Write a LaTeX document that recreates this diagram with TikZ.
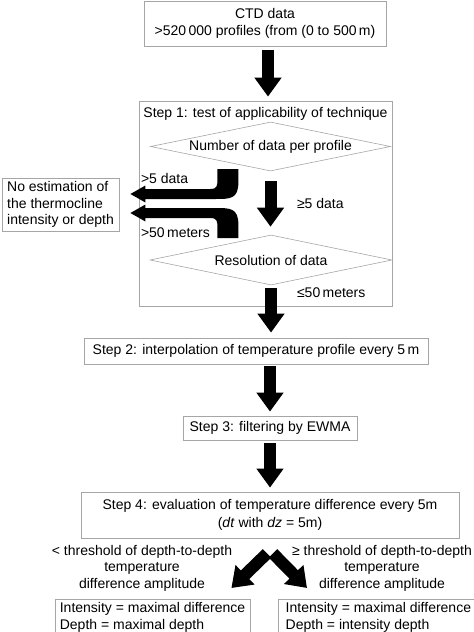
\documentclass[tikz,border=0pt]{standalone}
\usepackage{fontspec}
\setmainfont{Liberation Sans}
\usetikzlibrary{arrows.meta,shapes.geometric,positioning}
\tikzset{x=1pt, y=-1pt, % one unit per pixel, y grows downwards
every node/.style={font=\fontsize{14}{16.5}\selectfont}, % text size of the whole chart
box/.style={draw=gray!70, line width=0.8pt, align=center}, % framed steps
decision/.style={diamond, draw=gray!70, line width=0.6pt, aspect=5, inner sep=0pt}, % tests inside step 1
fat/.style={line width=12pt, -{Triangle[width=26pt,length=19pt]}}, % thick black arrows
}

\begin{document}
\begin{tikzpicture}
\useasboundingbox (0,0) rectangle (474,632);

\node[box, minimum width=242pt, minimum height=45pt] (ctd) at (265,23.5) {CTD data\\>520\,000 profiles (from (0 to 500\,m)};

% step 1 and its two tests
\node[box, minimum width=253pt, minimum height=205pt] (frame) at (265.5,203.5) {};
\node[below=3pt of frame.north] (title) {Step 1: test of applicability of technique};
\node[decision, minimum width=240pt, minimum height=49pt] (dia1) at (270.5,146.5) {Number of data per profile};
\node[decision, minimum width=242pt, minimum height=50pt] (dia2) at (271,260) {Resolution of data};
\node[anchor=west] (ge5) at (293.5,203) {≥5 data};
\node[anchor=west] (le50) at (293.5,293) {≤50\,meters};
\node[anchor=west] (gt5) at (137.5,178) {>5 data};
\node[anchor=west] (gt50) at (137.5,233) {>50\,meters};

\node[box, minimum width=117pt, minimum height=53pt, align=left] (noest) at (60.5,204.5) {No estimation of\\the thermocline\\intensity or depth};

\node[box, minimum width=344pt, minimum height=26pt] (step2) at (256,351) {Step 2: interpolation of temperature profile every 5\,m};
\node[box, minimum width=174pt, minimum height=24pt] (step3) at (270,428) {Step 3: filtering by EWMA};
\node[box, minimum width=378pt, minimum height=46pt] (step4) at (270,515) {Step 4: evaluation of temperature difference every 5m\\[1.5pt](\textit{dt} with \textit{dz} = 5m)};

\node[align=center] (lthr) at (142,568) {< threshold of depth-to-depth\\temperature\\difference amplitude};
\node[align=center] (rthr) at (382,568) {≥ threshold of depth-to-depth\\temperature\\difference amplitude};

\node[box, anchor=north, minimum width=195pt, align=left, inner ysep=3pt] (lres) at (152.5,599) {Intensity = maximal difference\\Depth = maximal depth};
\node[box, anchor=north west, minimum width=200pt, align=left, inner ysep=3pt] (rres) at (278,599) {Intensity = maximal difference\\Depth = intensity depth};

% main arrows
\draw[fat, shorten <=4pt, shorten >=4pt] ([xshift=3pt]ctd.south) -- ([xshift=3pt]ctd.south |- frame.north);
\draw[fat, shorten <=10pt, shorten >=8pt] (dia1.south) -- (dia1.south |- dia2.north);
\draw[fat, shorten <=3pt, shorten >=5pt] (dia2.south) -- (dia2.south |- step2.north);
\draw[fat, shorten <=2pt, shorten >=4pt] (step2.south -| step3) -- (step3.north);
\draw[fat, shorten <=3pt, shorten >=4pt] (step3.south) -- (step4.north);

% rejected profiles
\coordinate (split) at ([xshift=11pt,yshift=1pt]noest.east);
\foreach \s in {1,-1}
  \fill[shift={(split)}, yscale=\s] (108,-34.5) -- (108,-21.5) .. controls (108,-4.5) and (100,-4.5) .. (85,-4.5) -- (15,-4.5) -- (15,-1) -- (0,-9.5) -- (15,-18) -- (15,-14.5) -- (80,-14.5) .. controls (87,-14.5) and (87,-18.5) .. (87,-23.5) -- (87,-34.5) -- cycle;

% the two outcomes of step 4
\coordinate (forkL) at ([xshift=-3pt,yshift=-15pt]step4.south);
\coordinate (forkR) at ([xshift=3pt,yshift=-15pt]step4.south);
\draw[fat] (forkL) -- ([xshift=-19pt,yshift=11pt]lres.north east);
\draw[fat] (forkR) -- ([xshift=29pt,yshift=11pt]rres.north west);
\end{tikzpicture}
\end{document}
